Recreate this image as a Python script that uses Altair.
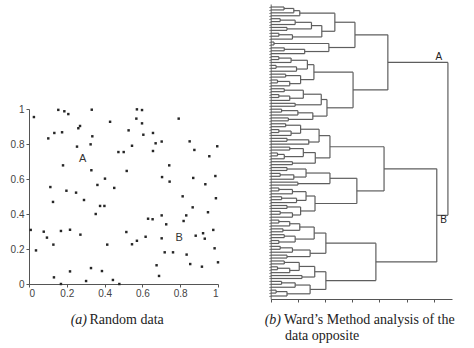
import altair as alt
import pandas as pd

# ---------------- (a) random data ----------------
xs = [0.026, 0.155, 0.187, 0.208, 0.332, 0.429, 0.134, 0.102, 0.175, 0.270,
      0.261, 0.335, 0.326, 0.254, 0.473, 0.180, 0.330, 0.402, 0.362, 0.451,
      0.113, 0.198, 0.249, 0.571, 0.598, 0.568, 0.598, 0.792, 0.527, 0.605,
      0.656, 0.670, 0.702, 0.545, 0.501, 0.656, 0.850, 0.875, 0.996, 0.954,
      0.742, 0.517, 0.704, 0.744, 0.869, 0.986, 0.933, 0.127, 0.291, 0.376,
      0.399, 0.353, 0.009, 0.078, 0.169, 0.217, 0.272, 0.095, 0.129, 0.037,
      0.414, 0.132, 0.217, 0.328, 0.386, 0.302, 0.444, 0.169, 0.478, 0.813,
      0.989, 0.866, 0.947, 0.832, 0.702, 0.630, 0.654, 0.818, 0.726, 0.515,
      0.617, 0.571, 0.545, 0.975, 0.921, 0.882, 0.930, 0.702, 0.718, 0.762,
      0.834, 0.982, 1.000, 0.853, 0.915, 0.675, 0.688]
ys = [0.954, 0.995, 0.987, 0.971, 0.996, 0.927, 0.863, 0.832, 0.867, 0.903,
      0.890, 0.844, 0.798, 0.785, 0.754, 0.678, 0.650, 0.602, 0.566, 0.549,
      0.554, 0.533, 0.522, 0.998, 0.994, 0.945, 0.918, 0.945, 0.878, 0.853,
      0.863, 0.804, 0.814, 0.790, 0.754, 0.760, 0.815, 0.766, 0.787, 0.730,
      0.678, 0.646, 0.611, 0.585, 0.606, 0.617, 0.570, 0.469, 0.480, 0.446,
      0.446, 0.400, 0.309, 0.299, 0.303, 0.310, 0.282, 0.265, 0.225, 0.192,
      0.225, 0.038, 0.072, 0.091, 0.074, 0.017, 0.023, 0.000, 0.000, 0.501,
      0.490, 0.438, 0.410, 0.392, 0.392, 0.373, 0.370, 0.360, 0.341, 0.297,
      0.270, 0.247, 0.227, 0.309, 0.290, 0.276, 0.259, 0.261, 0.181, 0.181,
      0.168, 0.204, 0.124, 0.114, 0.099, 0.107, 0.046]
scatter_ticks = [0, 0.2, 0.4, 0.6, 0.8, 1]
scatter_label_text = ["A", "B"]
scatter_label_x = [0.284, 0.795]
scatter_label_y = [0.713, 0.261]

# ---------------- (b) dendrogram (merge heights) ----------------
L = 0  # a leaf
A1a = [1.07, [0.85, [0.49, L, L], L], L]
A1b = [1.88, [1.5, [0.9, [0.35, L, L], L], [0.6, L, L]], [0.8, [0.3, L, L], L]]
A1 = [2.36, A1a, A1b]
A2 = [2.14, [0.12, L, L], [1.25, [0.5, L, L], L]]
A3 = [1.59, [1.35, [0.75, [0.3, L, L], L], [0.95, [0.2, L, L], L]],
      [1.1, [0.55, L, L], [0.7, [0.25, L, L], L]]]
A4 = [2.07, [1.86, [1.2, [0.5, L, L], [0.7, [0.3, L, L], L]], [0.9, L, L]],
      [1.55, [1.0, [0.4, L, L], L], [0.65, L, L]]]
A = [4.31, [3.10, A1, A2], [3.03, A3, A4]]
B1a = [2.18, [1.78, [1.1, [0.55, L, L], [0.75, [0.3, L, L], L]], [1.4, [0.6, L, L], L]],
       [1.64, [1.2, [0.7, L, L], [0.5, [0.25, L, L], L]], [0.8, L, L]]]
B1b = [3.17, [2.18, [1.3, [0.6, L, L], [0.85, [0.35, L, L], L]], [1.0, L, L]],
       [1.63, [1.3, [0.8, [0.3, L, L], L], [0.95, [0.4, L, L], L]],
        [1.1, [0.6, L, L], [0.8, [0.35, L, L], L]]]]
B2a = [2.03, [1.6, [1.07, [0.7, [0.3, L, L], L], [0.45, L, L]], [0.9, [0.5, L, L], [0.3, L, L]]],
       [1.45, [0.8, [0.35, L, L], L], [0.6, L, L]]]
B2b = [2.03, [1.62, [1.05, [0.5, L, L], [0.7, [0.25, L, L], L]], [1.15, L, L]],
       [1.45, [0.9, [0.4, L, L], L], [0.6, [0.2, L, L], L]]]
B = [6.11, [4.17, B1a, B1b], [3.87, B2a, B2b]]
tree = [6.52, A, B]
dendro_ticks = [0, 1, 2, 3, 4, 5, 6]
dendro_label_text = ["A", "B"]
dendro_label_h = [6.19, 6.36]
dendro_label_leaf = [17.1, 72.9]

# ---------------- dendrogram layout ----------------
segs = []
counter = [0]


def layout(node):
    if not isinstance(node, list):
        i = counter[0]
        counter[0] += 1
        return 0.0, float(i)
    h, a, b = node
    ha, ya = layout(a)
    hb, yb = layout(b)
    segs.append({"h": ha, "h2": h, "v": ya, "v2": ya})
    segs.append({"h": hb, "h2": h, "v": yb, "v2": yb})
    segs.append({"h": h, "h2": h, "v": ya, "v2": yb})
    return h, (ya + yb) / 2


layout(tree)
n_leaves = counter[0]
seg_df = pd.DataFrame(segs)

FONT = "Liberation Sans"
SERIF = "Liberation Serif"

sx = alt.Scale(domain=[0, 1], range=[29, 218])
sy = alt.Scale(domain=[0, 1], range=[284, 109])
dx = alt.Scale(domain=[0, 6.67], range=[270.7, 452])
dy = alt.Scale(domain=[-1.03, n_leaves - 1 + 1.03], range=[4, 299])

sc_df = pd.DataFrame({"px": xs, "py": ys})
points = alt.Chart(sc_df).mark_square(size=6, color="#262626", opacity=1).encode(
    x=alt.X("px:Q", scale=sx, axis=alt.Axis(
        orient="bottom", offset=-64, values=scatter_ticks, format=".1~f", title=None,
        grid=False, domainColor="#555555", tickColor="#555555", tickSize=3,
        labelFontSize=10, labelColor="#444444", labelFont=FONT, labelPadding=1)),
    y=alt.Y("py:Q", scale=sy, axis=alt.Axis(
        orient="left", offset=-29, values=scatter_ticks, format=".1~f", title=None,
        grid=False, domainColor="#555555", tickColor="#555555", tickSize=3,
        labelFontSize=10, labelColor="#444444", labelFont=FONT, labelPadding=2)),
)

sc_lab_df = pd.DataFrame({"px": scatter_label_x, "py": scatter_label_y, "t": scatter_label_text})
sc_labels = alt.Chart(sc_lab_df).mark_text(fontSize=11, color="#333333", font=FONT).encode(
    x=alt.X("px:Q", scale=sx, axis=None),
    y=alt.Y("py:Q", scale=sy, axis=None),
    text="t:N",
)

rules = alt.Chart(seg_df).mark_rule(color="#5e5e5e", strokeWidth=1.2).encode(
    x=alt.X("h:Q", scale=dx, axis=alt.Axis(
        orient="bottom", offset=-49, values=dendro_ticks, labels=False, title=None,
        grid=False, domainColor="#555555", tickColor="#555555", tickSize=3)),
    x2="h2:Q",
    y=alt.Y("v:Q", scale=dy, axis=alt.Axis(
        orient="left", offset=-270.7, values=list(range(n_leaves)), labels=False,
        title=None, grid=False, domainColor="#666666", tickColor="#999999", tickSize=2)),
    y2="v2:Q",
)

d_lab_df = pd.DataFrame({"h": dendro_label_h, "v": dendro_label_leaf, "t": dendro_label_text})
d_labels = alt.Chart(d_lab_df).mark_text(fontSize=10, color="#222222", font=FONT).encode(
    x=alt.X("h:Q", scale=dx, axis=None),
    y=alt.Y("v:Q", scale=dy, axis=None),
    text="t:N",
)


def caption(text, x, y, italic=False, align="left"):
    return alt.Chart(pd.DataFrame({"t": [text]})).mark_text(
        font=SERIF, fontSize=14, color="#222222", align=align, baseline="alphabetic",
        fontStyle="italic" if italic else "normal",
    ).encode(text="t:N", x=alt.value(x), y=alt.value(y))


captions = [
    caption("(a)", 87, 324, italic=True, align="right"),
    caption("Random data", 89.5, 324),
    caption("(b)", 281, 324, italic=True, align="right"),
    caption("Ward\u2019s Method analysis of the", 284, 324),
    caption("data opposite", 285, 340),
]

chart = alt.layer(points, sc_labels, rules, d_labels, *captions).resolve_scale(
    x="independent", y="independent"
).properties(
    width=474, height=348, autosize=alt.AutoSizeParams(type="none"), padding=0,
    background="white",
).configure_view(stroke=None)

chart.save("out.html", embed_options={"renderer": "svg", "actions": False})
